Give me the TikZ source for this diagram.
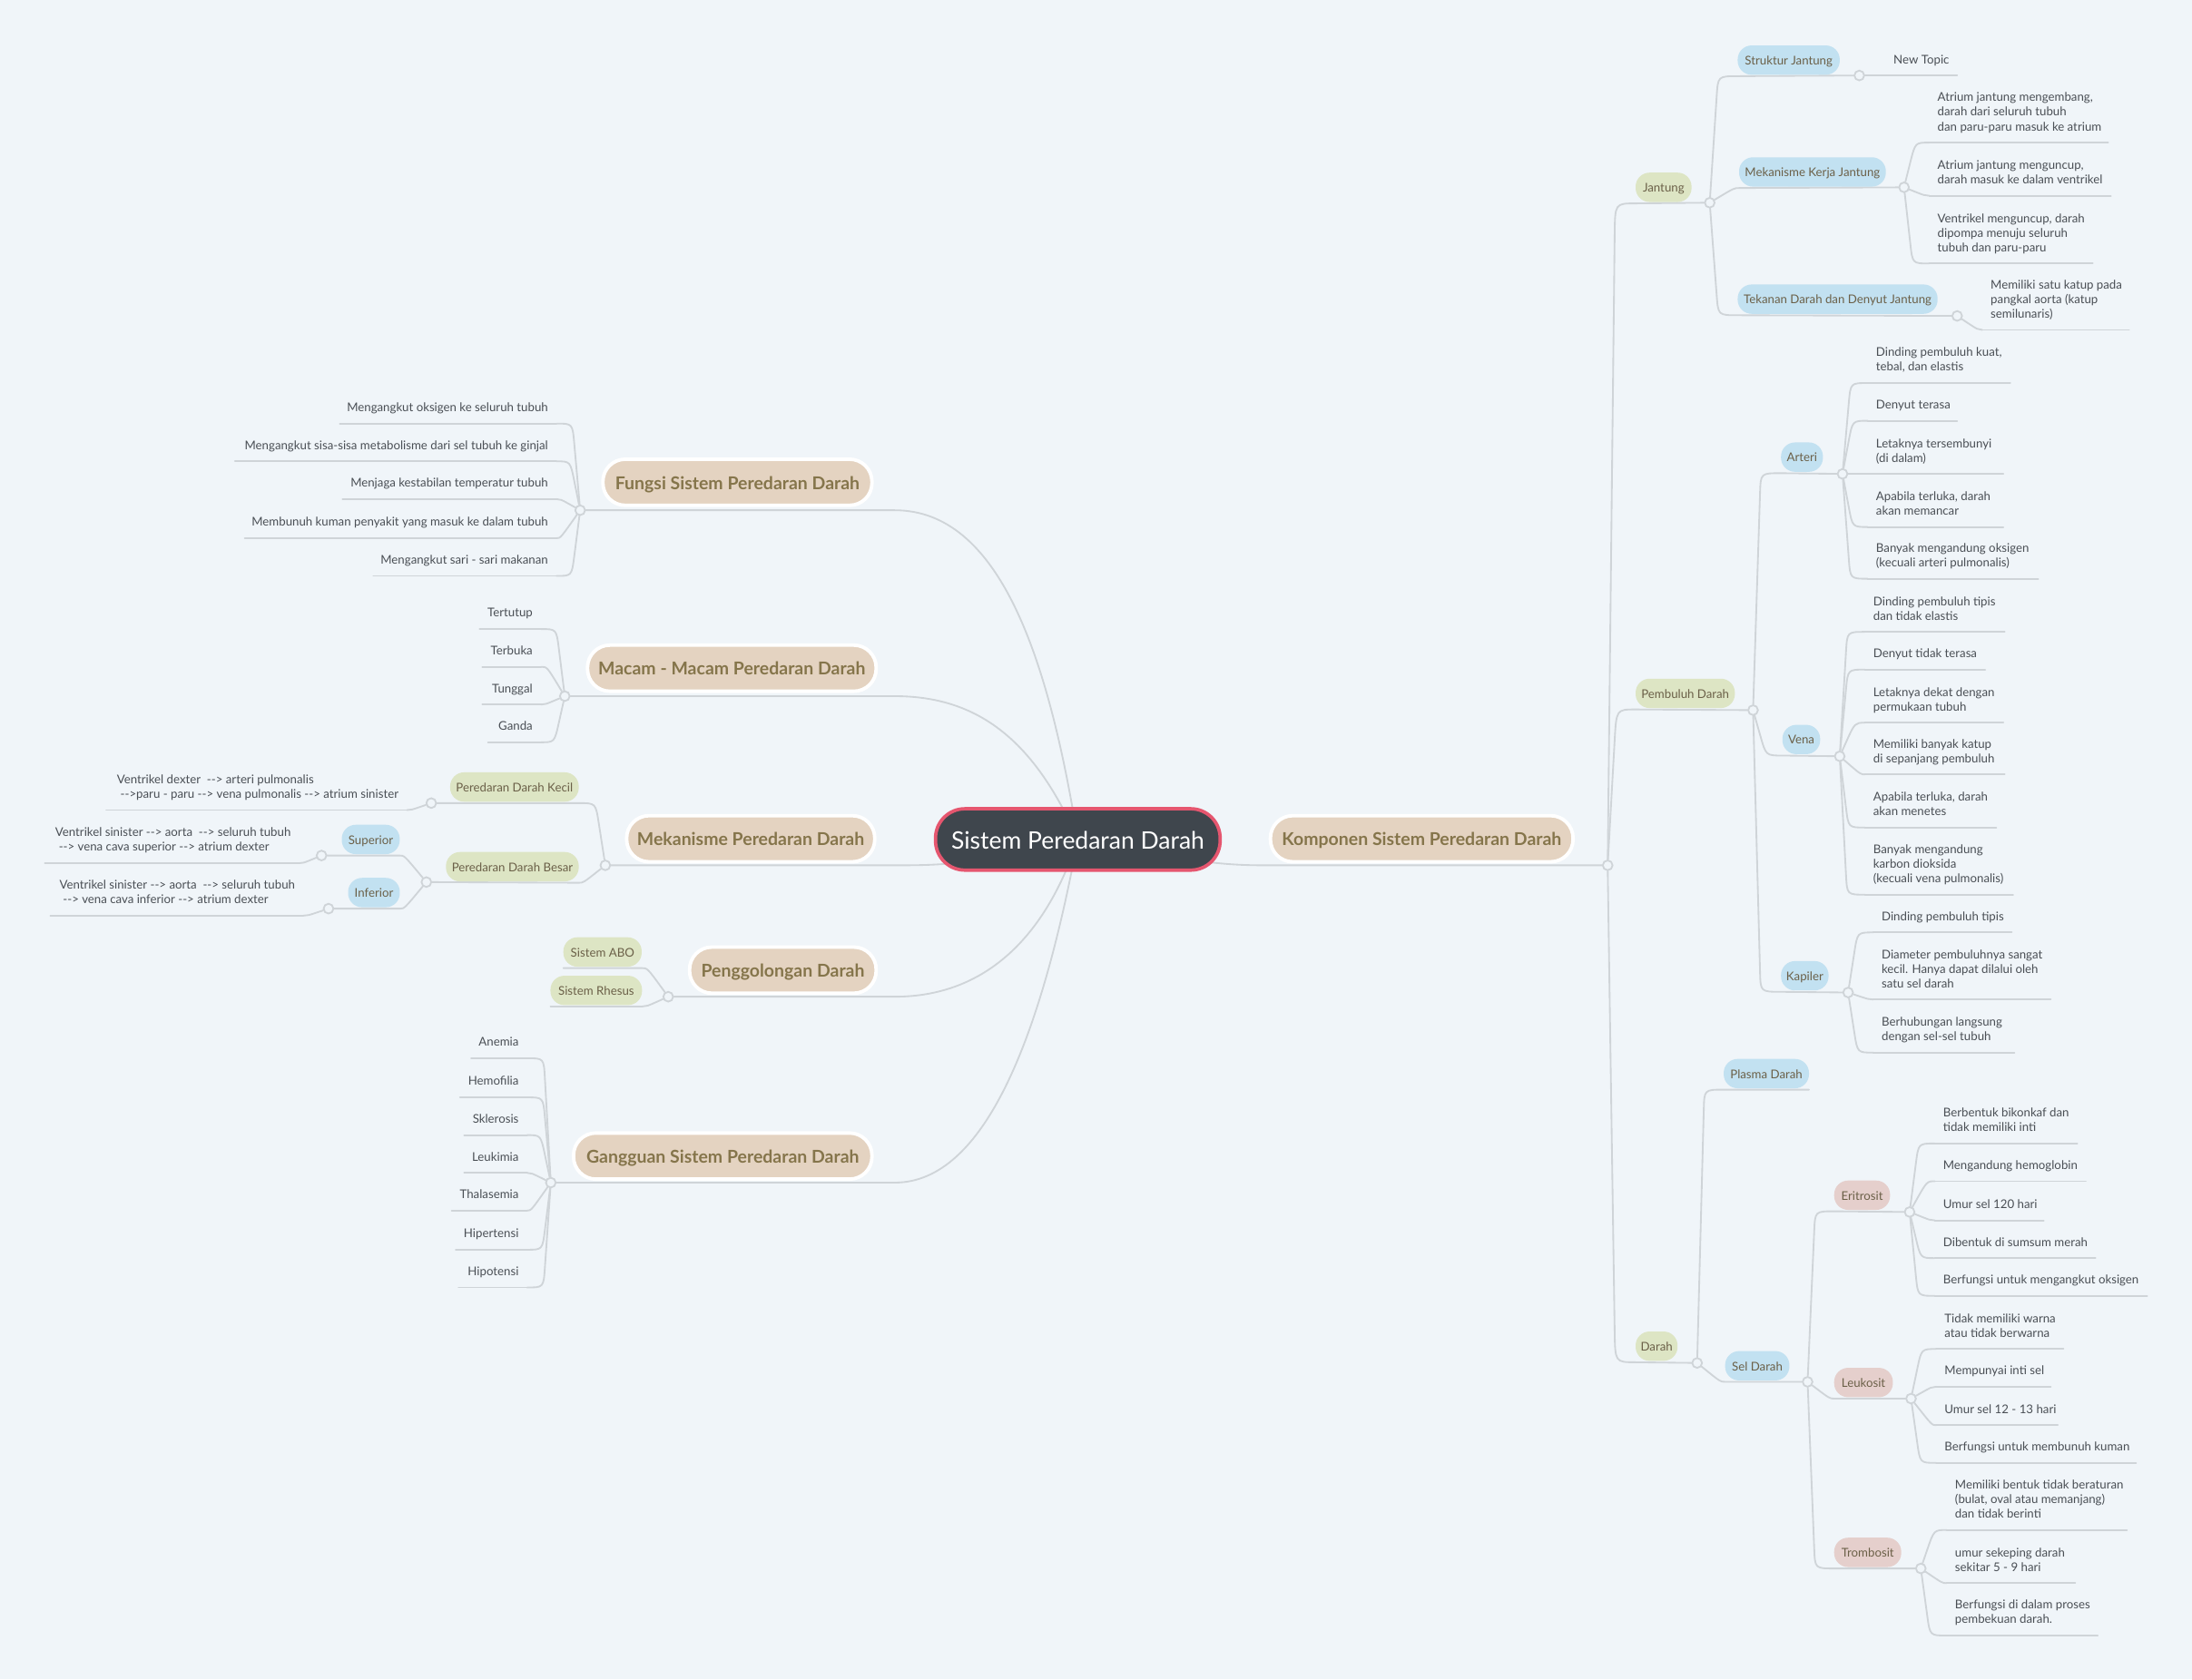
\documentclass[tikz,border=0pt]{standalone}
\usepackage{fontspec}
\setmainfont{Lato}
\usepackage{xcolor}
\usepackage{tikz}
\usetikzlibrary{calc, backgrounds}

\definecolor{bgcol}{HTML}{F0F5F9}
\definecolor{wirecol}{HTML}{CFD4D8}
\definecolor{leafcol}{HTML}{4A4F55}
\definecolor{pillcol}{HTML}{6B6048}
\definecolor{topiccol}{HTML}{85754B}
\definecolor{tancol}{HTML}{E4D3C1}
\definecolor{limecol}{HTML}{DDE5C4}
\definecolor{skycol}{HTML}{C2E1F1}
\definecolor{rosecol}{HTML}{E5CFCC}
\definecolor{rootcol}{HTML}{3F464D}
\definecolor{rimcol}{HTML}{E5566F}
\newcommand{\dto}{-{}->}

\begin{document}
\begin{tikzpicture}[
    x=1pt, y=-1pt,
    root/.style={rectangle, draw=rimcol, fill=rootcol, text=white, line width=2.4pt, rounded corners=21pt, minimum width=203.6pt, minimum height=43.9pt, inner sep=0pt, outer sep=0pt, text height=17pt, text depth=3.4pt, font=\fontsize{17.2}{20}\selectfont},
    topic/.style={rectangle, draw=white, fill=tancol, text=topiccol, line width=2.5pt, rounded corners=16pt, minimum height=33pt, inner sep=0pt, outer sep=0pt, text height=12.6pt, text depth=2.6pt, font=\fontsize{12.65}{14}\selectfont\bfseries},
    pill/.style={rectangle, rounded corners=10pt, minimum height=21pt, inner sep=0pt, outer xsep=0pt, outer ysep=1pt, text=pillcol, text height=9pt, text depth=2.2pt, font=\fontsize{8.6}{10.4}\selectfont},
    limepill/.style={pill, fill=limecol},
    skypill/.style={pill, fill=skycol},
    rosepill/.style={pill, fill=rosecol},
    leaftext/.style={inner xsep=6pt, inner ysep=6pt, text depth=2.5pt, outer sep=0pt, text=leafcol, font=\fontsize{8.6}{10.4}\selectfont},
    leaf/.style={leaftext, anchor=south west, align=left, append after command={(\tikzlastnode.south west) edge[wire] ++(#1,0)}},
    leafl/.style={leaftext, anchor=south east, align=right, append after command={(\tikzlastnode.south east) edge[wire] ++(-#1,0)}},
    wire/.style={draw=wirecol, line width=1.2pt, line cap=round},
    sprout/.style={to path={let \p1=(\tikztostart), \p2=(\tikztotarget), \n1={max(abs(\y2-\y1),0.01)}, \n2={min(0.7*\n1,#1)}, \n3={(\x2-\x1)*0.25} in -- ({\x1+\n3},{\y2-(\y2-\y1)/\n1*\n2}) .. controls ({\x1+\n3*(\n1/(\n1-\n2))},\y2) .. (\tikztotarget)}},
    sprout/.default=14,
    forkdot/.style={circle, draw=wirecol, fill=bgcol, line width=1.2pt, minimum size=7pt, inner sep=0pt},
]

\useasboundingbox (0,0) rectangle (1568,1201.2);
\begin{scope}[on background layer]
\fill[bgcol] (0,0) rectangle (1568,1201.2);
\end{scope}

% Centre
\node[root] (central) at (771,600.5) {Sistem Peredaran Darah};

% Main topics
\node[topic, minimum width=192.5pt] (fungsi) at (527.5,345) {Fungsi Sistem Peredaran Darah};
\node[topic, minimum width=206.5pt] (macam) at (523.5,478) {Macam - Macam Peredaran Darah};
\node[topic, minimum width=177.5pt] (mekanisme) at (537,600) {Mekanisme Peredaran Darah};
\node[topic, minimum width=133.5pt] (golongan) at (560,694) {Penggolongan Darah};
\node[topic, minimum width=213.5pt] (gangguan) at (517,827) {Gangguan Sistem Peredaran Darah};
\node[topic, minimum width=216.5pt] (komponen) at (1017,600) {Komponen Sistem Peredaran Darah};

% Forks of main topics
\node[forkdot] (fungsidot) at (415,365) {};
\node[forkdot] (macamdot) at (404,498) {};
\node[forkdot] (mekanismedot) at (433,619) {};
\node[forkdot] (golongandot) at (478,713) {};
\node[forkdot] (gangguandot) at (394,846) {};
\node[forkdot] (komponendot) at (1150,619) {};

% Fungsi
\node[leafl=155] (fungsia) at (398,303) {Mengangkut oksigen ke seluruh tubuh};
\node[leafl=230] (fungsib) at (398,330) {Mengangkut sisa-sisa metabolisme dari sel tubuh ke ginjal};
\node[leafl=153] (fungsic) at (398,357) {Menjaga kestabilan temperatur tubuh};
\node[leafl=223] (fungsid) at (398,385) {Membunuh kuman penyakit yang masuk ke dalam tubuh};
\node[leafl=131] (fungsie) at (398,412) {Mengangkut sari - sari makanan};

% Macam
\node[leafl=44] (macama) at (387,450) {Tertutup};
\node[leafl=42] (macamb) at (387,477) {Terbuka};
\node[leafl=42] (macamc) at (387,504) {Tunggal};
\node[leafl=38] (macamd) at (387,531) {Ganda};

% Mekanisme
\node[limepill, minimum width=92pt] (kecil) at (368,563) {Peredaran Darah Kecil};
\node[limepill, minimum width=95pt] (besar) at (366.5,620) {Peredaran Darah Besar};
\node[skypill, minimum width=41.5pt] (superior) at (265.2,600.5) {Superior};
\node[skypill, minimum width=37pt] (inferior) at (267.5,638.5) {Inferior};
\node[forkdot] (kecildot) at (308.5,574.5) {};
\node[forkdot] (besardot) at (305,631) {};
\node[forkdot] (superiordot) at (230,612) {};
\node[forkdot] (inferiordot) at (235,650) {};
\node[leafl=215, align=left] (kecilleaf) at (291,579.5) {Ventrikel dexter~ \dto{} arteri pulmonalis\\\hspace*{2.5pt}\dto{}paru - paru \dto{} vena pulmonalis \dto{} atrium sinister};
\node[leafl=182, align=left] (superiorleaf) at (214,617.5) {Ventrikel sinister \dto{} aorta~ \dto{} seluruh tubuh\\\hspace*{2.5pt}\dto{} vena cava superior \dto{} atrium dexter};
\node[leafl=181, align=left] (inferiorleaf) at (217,655) {Ventrikel sinister \dto{} aorta~ \dto{} seluruh tubuh\\\hspace*{2.5pt}\dto{} vena cava inferior \dto{} atrium dexter};

% Penggolongan
\node[limepill, minimum width=56pt] (abo) at (431,681) {Sistem ABO};
\node[limepill, minimum width=65.5pt] (rhesus) at (426.5,708.5) {Sistem Rhesus};

% Gangguan
\node[leafl=40] (anemia) at (377,757) {Anemia};
\node[leafl=48] (hemofilia) at (377,785) {Hemofilia};
\node[leafl=45] (sklerosis) at (377,812) {Sklerosis};
\node[leafl=45] (leukimia) at (377,839) {Leukimia};
\node[leafl=54] (thalasemia) at (377,866) {Thalasemia};
\node[leafl=51] (hipertensi) at (377,894) {Hipertensi};
\node[leafl=49] (hipotensi) at (377,921) {Hipotensi};

% Komponen
\node[limepill, minimum width=40pt] (jantung) at (1190,134) {Jantung};
\node[limepill, minimum width=71pt] (pembuluh) at (1205.5,496) {Pembuluh Darah};
\node[limepill, minimum width=30pt] (darah) at (1185,963) {Darah};
\node[forkdot] (jantungdot) at (1223,145) {};
\node[forkdot] (pembuluhdot) at (1254,508) {};
\node[forkdot] (darahdot) at (1214,975) {};

% Jantung
\node[skypill, minimum width=73pt] (struktur) at (1279.5,43) {Struktur Jantung};
\node[skypill, minimum width=105pt] (kerja) at (1296.5,123) {Mekanisme Kerja Jantung};
\node[skypill, minimum width=143pt] (tekanan) at (1314.5,214) {Tekanan Darah dan Denyut Jantung};
\node[forkdot] (strukturdot) at (1330,54) {};
\node[forkdot] (kerjadot) at (1362,134) {};
\node[forkdot] (tekanandot) at (1400,226) {};
\node[leaf=55, inner xsep=9.5pt] (topicnew) at (1345,54) {New Topic};
\node[leaf=128] (kerjaa) at (1380,102) {Atrium jantung mengembang,\\darah dari seluruh tubuh\\dan paru-paru masuk ke atrium};
\node[leaf=130] (kerjab) at (1380,140) {Atrium jantung menguncup,\\darah masuk ke dalam ventrikel};
\node[leaf=117] (kerjac) at (1380,188.5) {Ventrikel menguncup, darah\\dipompa menuju seluruh\\tubuh dan paru-paru};
\node[leaf=105] (tekanana) at (1418,236) {Memiliki satu katup pada\\pangkal aorta (katup\\semilunaris)};

% Arteri
\node[skypill, minimum width=30pt] (arteri) at (1289,327) {Arteri};
\node[forkdot] (arteridot) at (1318,339) {};
\node[leaf=102] (arteria) at (1336,274) {Dinding pembuluh kuat,\\tebal, dan elastis};
\node[leaf=64] (arterib) at (1336,301) {Denyut terasa};
\node[leaf=97] (arteric) at (1336,339) {Letaknya tersembunyi\\(di dalam)};
\node[leaf=97] (arterid) at (1336,377) {Apabila terluka, darah\\akan memancar};
\node[leaf=122] (arterie) at (1336,414) {Banyak mengandung oksigen\\(kecuali arteri pulmonalis)};

% Vena
\node[skypill, minimum width=27pt] (vena) at (1288.5,529) {Vena};
\node[forkdot] (venadot) at (1316,541) {};
\node[leaf=100] (venaa) at (1334,452) {Dinding pembuluh tipis\\dan tidak elastis};
\node[leaf=86] (venab) at (1334,479) {Denyut tidak terasa};
\node[leaf=99] (venac) at (1334,517) {Letaknya dekat dengan\\permukaan tubuh};
\node[leaf=100] (venad) at (1334,554) {Memiliki banyak katup\\di sepanjang pembuluh};
\node[leaf=94] (venae) at (1334,592) {Apabila terluka, darah\\akan menetes};
\node[leaf=106] (venaf) at (1334,640) {Banyak mengandung\\karbon dioksida\\(kecuali vena pulmonalis)};

% Kapiler
\node[skypill, minimum width=34pt] (kapiler) at (1291,698) {Kapiler};
\node[forkdot] (kapilerdot) at (1322,710) {};
\node[leaf=99] (kapilera) at (1340,667) {Dinding pembuluh tipis};
\node[leaf=127] (kapilerb) at (1340,715) {Diameter pembuluhnya sangat\\kecil. Hanya dapat dilalui oleh\\satu sel darah};
\node[leaf=101] (kapilerc) at (1340,753) {Berhubungan langsung\\dengan sel-sel tubuh};

% Darah
\node[skypill, minimum width=61pt] (plasma) at (1263.5,768) {Plasma Darah};
\node[skypill, minimum width=46pt] (sel) at (1257,977) {Sel Darah};
\node[forkdot] (seldot) at (1293,988.5) {};

% Eritrosit
\node[rosepill, minimum width=40pt] (eritrosit) at (1332,855) {Eritrosit};
\node[forkdot] (eritrositdot) at (1366,867) {};
\node[leaf=102] (eritrosita) at (1384,818) {Berbentuk bikonkaf dan\\tidak memiliki inti};
\node[leaf=108] (eritrositb) at (1384,845) {Mengandung hemoglobin};
\node[leaf=78] (eritrositc) at (1384,873) {Umur sel 120 hari};
\node[leaf=115] (eritrositd) at (1384,900) {Dibentuk di sumsum merah};
\node[leaf=152] (eritrosite) at (1384,927) {Berfungsi untuk mengangkut oksigen};

% Leukosit
\node[rosepill, minimum width=42pt] (leukosit) at (1333,989) {Leukosit};
\node[forkdot] (leukositdot) at (1367,1000.5) {};
\node[leaf=91] (leukosita) at (1385,965) {Tidak memiliki warna\\atau tidak berwarna};
\node[leaf=82] (leukositb) at (1385,992) {Mempunyai inti sel};
\node[leaf=87] (leukositc) at (1385,1019.5) {Umur sel 12 - 13 hari};
\node[leaf=143] (leukositd) at (1385,1046.5) {Berfungsi untuk membunuh kuman};

% Trombosit
\node[rosepill, minimum width=48pt] (trombosit) at (1336,1110.5) {Trombosit};
\node[forkdot] (trombositdot) at (1374,1122) {};
\node[leaf=129] (trombosita) at (1392.5,1094.5) {Memiliki bentuk tidak beraturan\\(bulat, oval atau memanjang)\\dan tidak berinti};
\node[leaf=92] (trombositb) at (1392.5,1132.5) {umur sekeping darah\\sekitar 5 - 9 hari};
\node[leaf=108] (trombositc) at (1392.5,1170) {Berfungsi di dalam proses\\pembekuan darah.};

% Connectors
\begin{scope}[on background layer]
\draw[wire] (central.center) .. controls (750,470) and (715,365) .. (640,365) -- (fungsidot);
\draw[wire] (central.center) .. controls (740,530) and (700,498) .. (640,498) -- (macamdot);
\draw[wire] (central.center) .. controls (700,619) and (670,619) .. (640,619) -- (mekanismedot);
\draw[wire] (central.center) .. controls (748,670) and (705,713) .. (640,713) -- (golongandot);
\draw[wire] (central.center) .. controls (745,740) and (705,846) .. (640,846) -- (gangguandot);
\draw[wire] (central.center) .. controls (845,615) and (870,619) .. (904,619) -- (komponendot);

\draw[wire, sprout] (fungsidot) to (fungsia.south east);
\draw[wire, sprout] (fungsidot) to (fungsib.south east);
\draw[wire, sprout] (fungsidot) to (fungsic.south east);
\draw[wire, sprout] (fungsidot) to (fungsid.south east);
\draw[wire, sprout] (fungsidot) to (fungsie.south east);

\draw[wire, sprout] (macamdot) to (macama.south east);
\draw[wire, sprout] (macamdot) to (macamb.south east);
\draw[wire, sprout] (macamdot) to (macamc.south east);
\draw[wire, sprout] (macamdot) to (macamd.south east);

\draw[wire, sprout] (mekanismedot) to (kecil.south east) -- (kecildot);
\draw[wire, sprout] (mekanismedot) to (besar.south east) -- (besardot);
\draw[wire, sprout] (besardot) to (superior.south east) -- (superiordot);
\draw[wire, sprout] (besardot) to (inferior.south east) -- (inferiordot);
\draw[wire, sprout] (kecildot) to (kecilleaf.south east);
\draw[wire, sprout] (superiordot) to (superiorleaf.south east);
\draw[wire, sprout] (inferiordot) to (inferiorleaf.south east);

\draw[wire, sprout] (golongandot) to (abo.south east) -- (abo.south west);
\draw[wire, sprout] (golongandot) to (rhesus.south east) -- (rhesus.south west);

\draw[wire, sprout] (gangguandot) to (anemia.south east);
\draw[wire, sprout] (gangguandot) to (hemofilia.south east);
\draw[wire, sprout] (gangguandot) to (sklerosis.south east);
\draw[wire, sprout] (gangguandot) to (leukimia.south east);
\draw[wire, sprout] (gangguandot) to (thalasemia.south east);
\draw[wire, sprout] (gangguandot) to (hipertensi.south east);
\draw[wire, sprout] (gangguandot) to (hipotensi.south east);

\draw[wire, sprout=22] (komponendot) to (jantung.south west) -- (jantungdot);
\draw[wire, sprout=22] (komponendot) to (pembuluh.south west) -- (pembuluhdot);
\draw[wire, sprout=22] (komponendot) to (darah.south west) -- (darahdot);

\draw[wire, sprout] (jantungdot) to (struktur.south west) -- (strukturdot);
\draw[wire, sprout] (jantungdot) to (kerja.south west) -- (kerjadot);
\draw[wire, sprout] (jantungdot) to (tekanan.south west) -- (tekanandot);
\draw[wire] (strukturdot) -- (topicnew.south west);
\draw[wire, sprout] (kerjadot) to (kerjaa.south west);
\draw[wire, sprout] (kerjadot) to (kerjab.south west);
\draw[wire, sprout] (kerjadot) to (kerjac.south west);
\draw[wire, sprout] (tekanandot) to (tekanana.south west);

\draw[wire, sprout] (pembuluhdot) to (arteri.south west) -- (arteridot);
\draw[wire, sprout] (pembuluhdot) to (vena.south west) -- (venadot);
\draw[wire, sprout] (pembuluhdot) to (kapiler.south west) -- (kapilerdot);

\draw[wire, sprout] (arteridot) to (arteria.south west);
\draw[wire, sprout] (arteridot) to (arterib.south west);
\draw[wire, sprout] (arteridot) to (arteric.south west);
\draw[wire, sprout] (arteridot) to (arterid.south west);
\draw[wire, sprout] (arteridot) to (arterie.south west);

\draw[wire, sprout] (venadot) to (venaa.south west);
\draw[wire, sprout] (venadot) to (venab.south west);
\draw[wire, sprout] (venadot) to (venac.south west);
\draw[wire, sprout] (venadot) to (venad.south west);
\draw[wire, sprout] (venadot) to (venae.south west);
\draw[wire, sprout] (venadot) to (venaf.south west);

\draw[wire, sprout] (kapilerdot) to (kapilera.south west);
\draw[wire, sprout] (kapilerdot) to (kapilerb.south west);
\draw[wire, sprout] (kapilerdot) to (kapilerc.south west);

\draw[wire, sprout] (darahdot) to (plasma.south west) -- (plasma.south east);
\draw[wire, sprout] (darahdot) to (sel.south west) -- (seldot);
\draw[wire, sprout] (seldot) to (eritrosit.south west) -- (eritrositdot);
\draw[wire, sprout] (seldot) to (leukosit.south west) -- (leukositdot);
\draw[wire, sprout] (seldot) to (trombosit.south west) -- (trombositdot);

\draw[wire, sprout] (eritrositdot) to (eritrosita.south west);
\draw[wire, sprout] (eritrositdot) to (eritrositb.south west);
\draw[wire, sprout] (eritrositdot) to (eritrositc.south west);
\draw[wire, sprout] (eritrositdot) to (eritrositd.south west);
\draw[wire, sprout] (eritrositdot) to (eritrosite.south west);

\draw[wire, sprout] (leukositdot) to (leukosita.south west);
\draw[wire, sprout] (leukositdot) to (leukositb.south west);
\draw[wire, sprout] (leukositdot) to (leukositc.south west);
\draw[wire, sprout] (leukositdot) to (leukositd.south west);

\draw[wire, sprout] (trombositdot) to (trombosita.south west);
\draw[wire, sprout] (trombositdot) to (trombositb.south west);
\draw[wire, sprout] (trombositdot) to (trombositc.south west);
\end{scope}

\end{tikzpicture}
\end{document}
